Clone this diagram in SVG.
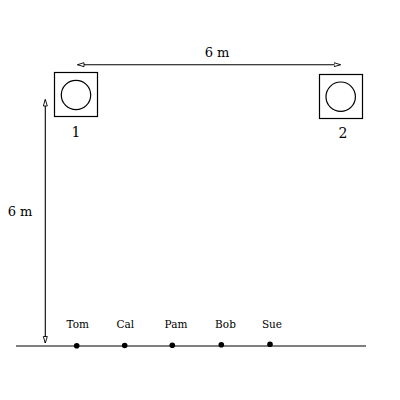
<svg xmlns="http://www.w3.org/2000/svg" width="400" height="400" viewBox="0 0 400 400">
<style>
.box{fill:#fff;stroke:#000;stroke-width:1.2}
.ln{stroke:#000;stroke-width:1.1;fill:none}
.t{font-family:"DejaVu Serif",serif;fill:#000;text-anchor:middle}
.dim{font-size:13px}
.num{font-size:14px}
.nm{font-size:10.5px}
.dot{fill:#000}
</style>
<defs>
<marker id="ah" markerUnits="userSpaceOnUse" markerWidth="10" markerHeight="8" refX="7" refY="2.5" orient="auto-start-reverse">
<path d="M0.5,0.5 L7,2.5 L0.5,4.5 Z" fill="#fff" stroke="#000" stroke-width="0.9"/>
</marker>
</defs>
<rect width="400" height="400" fill="#fff"/>
<g id="connectors">
<line class="ln" x1="77.5" y1="64.7" x2="340.5" y2="64.7" marker-start="url(#ah)" marker-end="url(#ah)"/>
<line class="ln" x1="45.3" y1="99.5" x2="45.3" y2="343" marker-start="url(#ah)" marker-end="url(#ah)"/>
<line class="ln" x1="16" y1="346" x2="366" y2="346"/>
</g>
<text class="t dim" x="217" y="56.5">6 m</text>
<text class="t dim" x="20" y="216">6 m</text>
<g id="speaker1">
<rect class="box" x="54.5" y="72.5" width="43" height="44"/>
<circle class="box" cx="76" cy="95" r="14.7"/>
<text class="t num" x="76" y="137">1</text>
</g>
<g id="speaker2">
<rect class="box" x="319.5" y="74.5" width="43" height="44"/>
<circle class="box" cx="340.7" cy="96.7" r="14.7"/>
<text class="t num" x="343" y="138">2</text>
</g>
<g id="tom"><circle class="dot" cx="76.7" cy="345.7" r="2.8"/><text class="t nm" x="77.8" y="328">Tom</text></g>
<g id="cal"><circle class="dot" cx="124.7" cy="345.5" r="2.8"/><text class="t nm" x="125.3" y="328">Cal</text></g>
<g id="pam"><circle class="dot" cx="172.3" cy="345.2" r="2.8"/><text class="t nm" x="176" y="328">Pam</text></g>
<g id="bob"><circle class="dot" cx="221.3" cy="344.8" r="2.8"/><text class="t nm" x="225.5" y="328">Bob</text></g>
<g id="sue"><circle class="dot" cx="270" cy="344.3" r="2.8"/><text class="t nm" x="272" y="328">Sue</text></g>
</svg>
